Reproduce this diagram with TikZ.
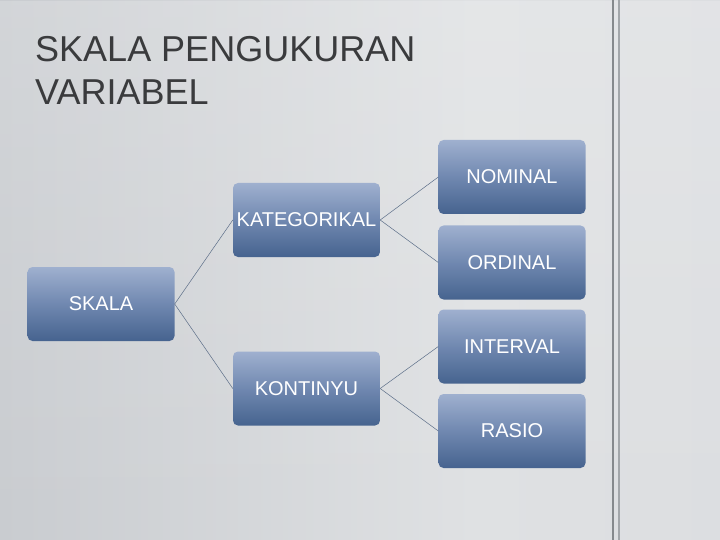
\documentclass[tikz,border=0pt]{standalone}
\usepackage{fontspec}
\usetikzlibrary{fadings}
\setmainfont{Liberation Sans}
\definecolor{bg0}{HTML}{A9ADB1}
\definecolor{bg1}{HTML}{C9CCD0}
\definecolor{bg2}{HTML}{DFE1E3}
\definecolor{bg3}{HTML}{D8DADD}
\definecolor{boxtop}{HTML}{9FB0CF}
\definecolor{boxmid}{HTML}{7088B0}
\definecolor{boxbot}{HTML}{46638F}
\definecolor{linkc}{HTML}{5C6E88}
\definecolor{titlec}{HTML}{3A3B3D}
\definecolor{vline1}{HTML}{85898D}
\definecolor{vline2}{HTML}{A2A6AA}
\pgfdeclarehorizontalshading{bgsh}{100bp}{color(0bp)=(bg0); color(25bp)=(bg1); color(58bp)=(bg2); color(100bp)=(bg3)}
\tikzset{
  catbox/.style={rectangle, rounded corners=5pt, minimum width=147pt, minimum height=74pt,
    inner sep=0pt, top color=boxtop, bottom color=boxbot, middle color=boxmid,
    text=white, font=\fontsize{20}{24}\selectfont},
  link/.style={draw=linkc, line width=0.5pt},
  titletext/.style={anchor=base west, inner sep=0pt, text=titlec, font=\fontsize{36}{43}\selectfont}
}
\begin{document}
\begin{tikzpicture}[x=1pt,y=-1pt]
\useasboundingbox (0,0) rectangle (720,540);
\shade[shading=bgsh] (0,0) rectangle (720,540);
\fill[white, opacity=0.18, path fading=south] (0,0) rectangle (720,540);
\draw[color=vline1, line width=1.2pt] (613,0) -- (613,540);
\draw[color=vline2, line width=2.5pt] (619,0) -- (619,540);
\node[titletext] (title1) at (35,62) {SKALA PENGUKURAN};
\node[titletext] (title2) at (35,105) {VARIABEL};
\node[catbox] (skala) at (101,304) {SKALA};
\node[catbox] (kat) at (306.5,220) {KATEGORIKAL};
\node[catbox] (kon) at (306.5,388.5) {KONTINYU};
\node[catbox] (nom) at (512,177) {NOMINAL};
\node[catbox] (ord) at (512,262.5) {ORDINAL};
\node[catbox] (int) at (512,346.5) {INTERVAL};
\node[catbox] (ras) at (512,431) {RASIO};
\draw[link] (skala.east) -- (kat.west);
\draw[link] (skala.east) -- (kon.west);
\draw[link] (kat.east) -- (nom.west);
\draw[link] (kat.east) -- (ord.west);
\draw[link] (kon.east) -- (int.west);
\draw[link] (kon.east) -- (ras.west);
\end{tikzpicture}
\end{document}
